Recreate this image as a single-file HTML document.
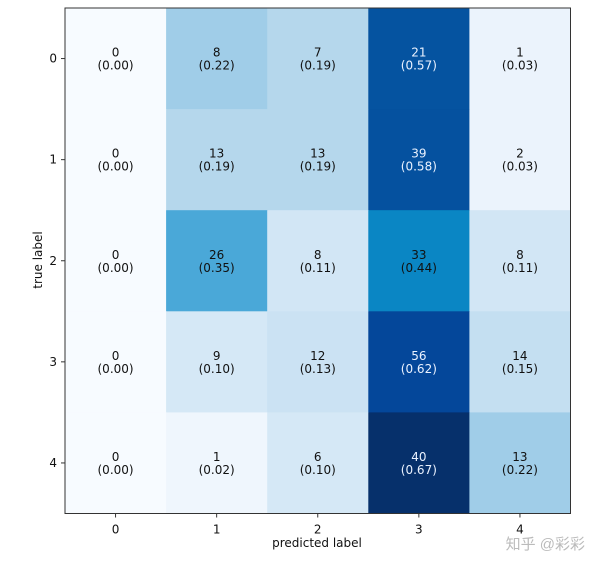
<!DOCTYPE html>
<html><head><meta charset="utf-8"><style>
html,body{margin:0;padding:0;background:#fff;}
svg{display:block;font-family:"DejaVu Sans","Liberation Sans",sans-serif;}
</style></head><body>
<svg id="chart" width="600" height="567" viewBox="0 0 600 567" xmlns="http://www.w3.org/2000/svg">
<g id="cells"></g>
<g id="labels"></g>
<rect x="65" y="8" width="505.5" height="505.5" fill="none" stroke="#333" stroke-width="1"/>
<g id="axes"></g>
<text x="317" y="547" font-size="12" text-anchor="middle" fill="#111">predicted label</text>
<text transform="translate(42,260) rotate(-90)" font-size="12" text-anchor="middle" fill="#111">true label</text>
<text x="585" y="549" font-size="15" text-anchor="end" fill="#bbb" font-family="'Liberation Sans','Noto Sans CJK SC',sans-serif">知乎 @彩彩</text>
</svg>
<script>
const classes = ['0','1','2','3','4'];
const counts = [
 [0,8,7,21,1],
 [0,13,13,39,2],
 [0,26,8,33,8],
 [0,9,12,56,14],
 [0,1,6,40,13]
];
const normed = [
 [0.00,0.22,0.19,0.57,0.03],
 [0.00,0.19,0.19,0.58,0.03],
 [0.00,0.35,0.11,0.44,0.11],
 [0.00,0.10,0.13,0.62,0.15],
 [0.00,0.02,0.10,0.67,0.22]
];
const NS='http://www.w3.org/2000/svg';
const plotLeft=65, plotTop=8, plotSize=505.5, n=classes.length, cw=plotSize/n;
const xPos = i => plotLeft + cw*i;
const yPos = i => plotTop + cw*i;
const rampAt=[0,0.03,0.11,0.19,0.22,0.35,0.44,0.57,0.62,0.67];
const rampHex=['#f7fbff','#ebf3fc','#d2e6f5','#b5d7ec','#a0cde8','#4aa8d8','#0a86c4','#0553a0','#04479a','#06306b'];
const rampRgb=rampHex.map(h=>[parseInt(h.slice(1,3),16),parseInt(h.slice(3,5),16),parseInt(h.slice(5,7),16)]);
function color(v){
  let i=0;
  while(i<rampAt.length-2 && v>rampAt[i+1]) i++;
  let f=(v-rampAt[i])/(rampAt[i+1]-rampAt[i]); f=Math.max(0,Math.min(1,f));
  const c=rampRgb[i].map((a,k)=>Math.round(a+(rampRgb[i+1][k]-a)*f));
  return 'rgb('+c.join(',')+')';
}
const cells=document.getElementById('cells'), labels=document.getElementById('labels'), axes=document.getElementById('axes');
for(let r=0;r<n;r++){
  for(let c=0;c<n;c++){
    const rect=document.createElementNS(NS,'rect');
    
    
    rect.setAttribute('x',xPos(c)); rect.setAttribute('y',yPos(r));
    rect.setAttribute('width',cw+0.5); rect.setAttribute('height',cw+0.5);
    rect.setAttribute('fill',color(normed[r][c]));
    cells.appendChild(rect);
    const fill = normed[r][c] > 0.5 ? '#eaf2ff' : '#111';
    const cx=xPos(c)+cw/2, cy=yPos(r)+cw/2;
    const t1=document.createElementNS(NS,'text');
    
    
    t1.setAttribute('x',cx); t1.setAttribute('y',cy-2);
    t1.setAttribute('font-size','12'); t1.setAttribute('text-anchor','middle'); t1.setAttribute('fill',fill);
    t1.textContent=counts[r][c];
    labels.appendChild(t1);
    const t2=document.createElementNS(NS,'text');
    
    
    t2.setAttribute('x',cx); t2.setAttribute('y',cy+11);
    t2.setAttribute('font-size','12'); t2.setAttribute('text-anchor','middle'); t2.setAttribute('fill',fill);
    t2.textContent='('+normed[r][c].toFixed(2)+')';
    labels.appendChild(t2);
  }
}
for(let i=0;i<n;i++){
  const x=xPos(i)+cw/2, y=yPos(i)+cw/2;
  const xt=document.createElementNS(NS,'line');
  
  
  xt.setAttribute('x1',x);xt.setAttribute('x2',x);xt.setAttribute('y1',plotTop+plotSize);xt.setAttribute('y2',plotTop+plotSize+4);xt.setAttribute('stroke','#333');
  axes.appendChild(xt);
  const xl=document.createElementNS(NS,'text');
  
  
  xl.setAttribute('x',x);xl.setAttribute('y',plotTop+plotSize+20);xl.setAttribute('font-size','12');xl.setAttribute('text-anchor','middle');xl.setAttribute('fill','#111');
  xl.textContent=classes[i];
  axes.appendChild(xl);
  const yt=document.createElementNS(NS,'line');
  
  
  yt.setAttribute('x1',plotLeft-4);yt.setAttribute('x2',plotLeft);yt.setAttribute('y1',y);yt.setAttribute('y2',y);yt.setAttribute('stroke','#333');
  axes.appendChild(yt);
  const yl=document.createElementNS(NS,'text');
  
  
  yl.setAttribute('x',plotLeft-8);yl.setAttribute('y',y+4);yl.setAttribute('font-size','12');yl.setAttribute('text-anchor','end');yl.setAttribute('fill','#111');
  yl.textContent=classes[i];
  axes.appendChild(yl);
}
</script>
</body></html>
